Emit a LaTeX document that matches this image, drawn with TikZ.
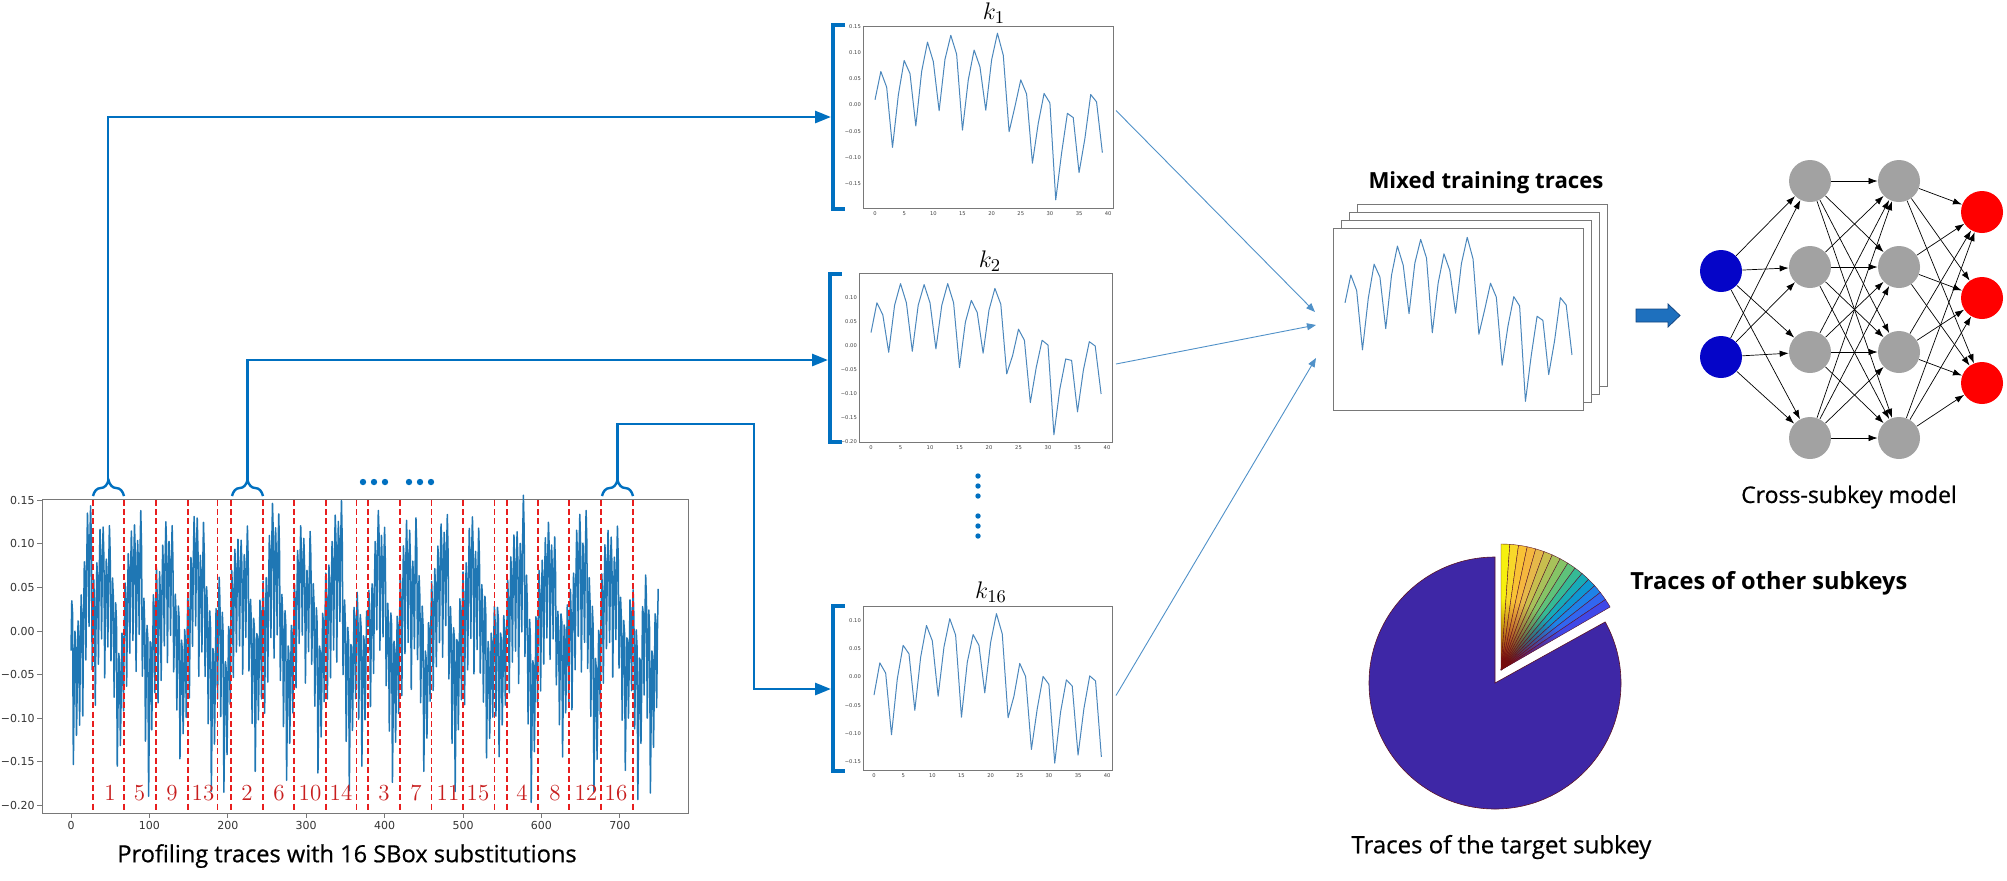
\documentclass[tikz,border=0pt]{standalone}
\usepackage{fontspec}
\newfontfamily\osans{Open Sans}
\newfontfamily\osansm[FakeBold=0.6]{Open Sans}
\newfontfamily\tickfont{DejaVu Sans}
\usetikzlibrary{arrows.meta,decorations.pathreplacing,fadings}
\definecolor{ablue}{RGB}{0,112,192}
\definecolor{tracecol}{RGB}{31,119,180}
\definecolor{kcol}{RGB}{75,135,188}
\definecolor{tblue}{RGB}{80,145,200}
\definecolor{framegray}{RGB}{120,120,120}
\definecolor{sred}{RGB}{232,30,30}
\definecolor{nred}{RGB}{200,30,30}
\definecolor{piemain}{RGB}{62,39,166}
\definecolor{pieline}{RGB}{90,20,40}
\definecolor{apexred}{RGB}{120,10,10}
\definecolor{nnblue}{RGB}{5,5,200}
\definecolor{nngray}{RGB}{162,162,162}
\definecolor{nnred}{RGB}{255,0,0}
\definecolor{barfill}{RGB}{30,112,190}
\definecolor{barline}{RGB}{20,70,130}
\definecolor{w1}{RGB}{246,240,14}
\definecolor{w2}{RGB}{248,216,42}
\definecolor{w3}{RGB}{249,194,53}
\definecolor{w4}{RGB}{245,183,63}
\definecolor{w5}{RGB}{230,184,74}
\definecolor{w6}{RGB}{200,190,78}
\definecolor{w7}{RGB}{168,193,90}
\definecolor{w8}{RGB}{133,196,102}
\definecolor{w9}{RGB}{94,194,122}
\definecolor{w10}{RGB}{53,186,149}
\definecolor{w11}{RGB}{23,171,184}
\definecolor{w12}{RGB}{14,152,210}
\definecolor{w13}{RGB}{30,130,232}
\definecolor{w14}{RGB}{50,102,240}
\definecolor{w15}{RGB}{64,72,232}
\tikzfading[name=apexfade, inner color=transparent!0, outer color=transparent!100]
\tikzset{
  pframe/.style={draw=framegray, line width=0.5pt, fill=white, inner sep=0pt, anchor=north west},
  bigtrace/.style={draw=tracecol, line width=0.75pt, line join=round},
  ktrace/.style={draw=kcol, line width=0.5pt, line join=round},
  sbox/.style={draw=sred, line width=0.85pt, dash pattern=on 3pt off 1.6pt},
  snum/.style={text=nred, font=\fontsize{11.5}{12}\selectfont, inner sep=0pt},
  flow/.style={draw=ablue, line width=1.4pt, -{Triangle[length=8pt,width=6pt]}},
  kbr/.style={draw=ablue, line width=2pt},
  brc/.style={draw=ablue, line width=1.2pt, decorate, decoration={brace, amplitude=8pt}},
  bdot/.style={fill=ablue, circle, inner sep=0pt, minimum size=3.2pt},
  vdot/.style={fill=ablue, circle, inner sep=0pt, minimum size=2.7pt},
  feed/.style={draw=tblue, line width=0.45pt, -{Triangle[length=4.5pt,width=3.5pt]}},
  ticklab/.style={font=\tickfont\fontsize{5.5}{6}\selectfont, text=black!80, inner sep=1pt},
  ktick/.style={font=\tickfont\fontsize{2.6}{3}\selectfont, text=black!75, inner sep=0.4pt},
  klabel/.style={font=\fontsize{13}{15}\selectfont, inner sep=0pt},
  nn/.style={circle, minimum size=21pt, inner sep=0pt},
  nnedge/.style={draw=black, line width=0.35pt, -{Latex[length=4.5pt,width=3.2pt]}},
  captxt/.style={font=\osansm\fontsize{11.8}{13}\selectfont, inner sep=0pt},
  captxtb/.style={font=\osans\bfseries\fontsize{11.8}{13}\selectfont, inner sep=0pt}
}
\def\Pk{{0.010,0.064,0.034,-0.081,0.019,0.085,0.060,-0.040,0.064,0.120,0.083,-0.011,0.087,0.133,0.097,-0.048,0.048,0.105,0.073,-0.010,0.086,0.137,0.095,-0.051,-0.003,0.048,0.021,-0.111,-0.035,0.022,0.004,-0.181,-0.092,-0.016,-0.024,-0.129,-0.064,0.020,0.006,-0.091}}
\begin{document}
\begin{tikzpicture}[x=0.5pt,y=-0.5pt]
\useasboundingbox (0,0) rectangle (2007,880);

% ---------------- big profiling plot ----------------
\node[pframe, line width=0.7pt, minimum width=323pt, minimum height=157pt] (big) at (42,499) {};
\gdef\bigtr{}
\foreach \n in {0,...,749}{%
  \pgfmathtruncatemacro\g{\n<204 ? 28 : (\n<379 ? 204 : (\n<556 ? 379 : 556))}%
  \pgfmathtruncatemacro\j{\n<28 ? mod(\n+28,40) : (\n>\g+159 ? 24+mod(\n-\g-160,16) : mod(\n-\g,40))}%
  \pgfmathsetmacro\v{(0.93+0.07*sin(\n*4.5))*\Pk[\j]+0.012*sin(\n*21.3)+0.01*cos(\n*13.7)}%
  \pgfmathsetmacro\xx{71+0.784*\n}%
  \pgfmathsetmacro\yy{631-873*\v}%
  \xdef\bigtr{\bigtr(\xx,\yy)}%
}
\edef\tmp{\noexpand\draw[bigtrace] plot coordinates {\bigtr};}\tmp
\foreach \xv in {93.0,124.3,155.7,187.8,217.6,230.9,263.1,293.7,325.8,356.4,368.1,400.3,431.6,463.0,494.4,506.9,538.3,568.8,601.0,633.1}
  \draw[sbox] (\xv,500) -- (\xv,812);
\foreach \xv/\t in {110/1,139.5/5,172/9,203/13,247/2,279/6,310/10,341/14,384/3,416/7,448/11,478/15,522/4,555/8,586/12,616/16}
  \node[snum] (sn\t) at (\xv,793) {\t};
% y ticks
\foreach \yv/\t in {0.15/0.15,0.10/0.10,0.05/0.05,0.00/0.00,-0.05/−0.05,-0.10/−0.10,-0.15/−0.15,-0.20/−0.20}{
  \pgfmathsetmacro\yy{631-873*\yv}
  \draw[framegray, line width=0.5pt] (42,\yy) -- (37,\yy);
  \node[ticklab, anchor=east] at (37,\yy) {\t};
}
\foreach \k in {0,...,7}{
  \pgfmathsetmacro\xx{71+78.4*\k}
  \pgfmathtruncatemacro\lab{100*\k}
  \draw[framegray, line width=0.5pt] (\xx,813) -- (\xx,818);
  \node[ticklab] (xl\k) at (\xx,825) {\lab};
}
\node[captxt] (ptitle) at (347,856) {Profiling traces with 16 SBox substitutions};

% braces and dots
\draw[brc] (93,496) -- (124,496);
\draw[brc] (232,496) -- (263,496);
\draw[brc] (602,496) -- (633,496);
\coordinate (b1) at (108,480);
\coordinate (b2) at (247.5,480);
\coordinate (b3) at (617.5,480);
\foreach \xv [count=\i] in {363,374,385,409,420,431}
  \node[bdot] (hd\i) at (\xv,482) {};

% ---------------- k plots ----------------
% k1
\node[pframe, minimum width=125pt, minimum height=91pt] (k1) at (863,26) {};
\draw[ktrace, shift={(875,105)}, xscale=5.83, yscale=-524] plot coordinates {(0,0.010) (1,0.064) (2,0.034) (3,-0.081) (4,0.019) (5,0.085) (6,0.060) (7,-0.040) (8,0.064) (9,0.120) (10,0.083) (11,-0.011) (12,0.087) (13,0.133) (14,0.097) (15,-0.048) (16,0.048) (17,0.105) (18,0.073) (19,-0.010) (20,0.086) (21,0.137) (22,0.095) (23,-0.051) (24,-0.003) (25,0.048) (26,0.021) (27,-0.111) (28,-0.035) (29,0.022) (30,0.004) (31,-0.181) (32,-0.092) (33,-0.016) (34,-0.024) (35,-0.129) (36,-0.064) (37,0.020) (38,0.006) (39,-0.091)};
\foreach \yv/\t in {0.15/0.15,0.10/0.10,0.05/0.05,0/0.00,-0.05/−0.05,-0.10/−0.10,-0.15/−0.15}{
  \pgfmathsetmacro\yy{105-524*\yv}
  \node[ktick, anchor=east] at (862,\yy) {\t};}
\foreach \i in {0,5,...,40}{
  \pgfmathsetmacro\xx{875+5.83*\i}
  \node[ktick] at (\xx,214) {\i};}
\draw[kbr] (845,25) -- (833,25) -- (833,209) -- (845,209);
\coordinate (k1in) at (831,117);
\node[klabel] (k1t) at (994,13) {$k_{1}$};

% k2
\node[pframe, minimum width=126.5pt, minimum height=84.5pt] (k2) at (859,273) {};
\draw[ktrace, shift={(871,346)}, xscale=5.9, yscale=-480] plot coordinates {(0,0.028) (1,0.090) (2,0.065) (3,-0.013) (4,0.085) (5,0.130) (6,0.090) (7,-0.011) (8,0.085) (9,0.128) (10,0.090) (11,-0.006) (12,0.085) (13,0.130) (14,0.090) (15,-0.045) (16,0.050) (17,0.095) (18,0.070) (19,-0.015) (20,0.075) (21,0.120) (22,0.087) (23,-0.058) (24,-0.020) (25,0.035) (26,0.012) (27,-0.118) (28,-0.045) (29,0.012) (30,0.002) (31,-0.185) (32,-0.090) (33,-0.027) (34,-0.030) (35,-0.137) (36,-0.050) (37,0.009) (38,0.000) (39,-0.100)};
\foreach \yv/\t in {0.10/0.10,0.05/0.05,0/0.00,-0.05/−0.05,-0.10/−0.10,-0.15/−0.15,-0.20/−0.20}{
  \pgfmathsetmacro\yy{346-480*\yv}
  \node[ktick, anchor=east] at (858,\yy) {\t};}
\foreach \i in {0,5,...,40}{
  \pgfmathsetmacro\xx{871+5.9*\i}
  \node[ktick] at (\xx,448) {\i};}
\draw[kbr] (842,274) -- (830,274) -- (830,442) -- (842,442);
\coordinate (k2in) at (828,360);
\node[klabel] (k2t) at (990,261) {$k_{2}$};

% dots
\foreach \yv [count=\i] in {476,486,496,516,526,536}
  \node[vdot] (vd\i) at (978,\yv) {};

% k16
\node[pframe, minimum width=124.5pt, minimum height=82pt] (k16) at (863,606) {};
\draw[ktrace, shift={(874,677)}, xscale=5.83, yscale=-566] plot coordinates {(0,-0.032) (1,0.025) (2,0.007) (3,-0.102) (4,-0.003) (5,0.056) (6,0.041) (7,-0.059) (8,0.035) (9,0.091) (10,0.064) (11,-0.034) (12,0.053) (13,0.103) (14,0.074) (15,-0.071) (16,0.026) (17,0.075) (18,0.056) (19,-0.028) (20,0.061) (21,0.112) (22,0.076) (23,-0.072) (24,-0.034) (25,0.024) (26,0.001) (27,-0.128) (28,-0.056) (29,0.001) (30,-0.013) (31,-0.152) (32,-0.062) (33,-0.005) (34,-0.016) (35,-0.138) (36,-0.056) (37,0.002) (38,-0.007) (39,-0.141)};
\foreach \yv/\t in {0.10/0.10,0.05/0.05,0/0.00,-0.05/−0.05,-0.10/−0.10,-0.15/−0.15}{
  \pgfmathsetmacro\yy{677-566*\yv}
  \node[ktick, anchor=east] at (862,\yy) {\t};}
\foreach \i in {0,5,...,40}{
  \pgfmathsetmacro\xx{874+5.83*\i}
  \node[ktick] at (\xx,776) {\i};}
\draw[kbr] (845,606) -- (833,606) -- (833,771) -- (845,771);
\coordinate (k16in) at (831,689);
\node[klabel] (k16t) at (991,592) {$k_{16}$};

% flow arrows from braces
\draw[flow] (b1) |- (k1in);
\draw[flow] (b2) |- (k2in);
\coordinate (c3a) at (754,424);
\draw[flow] (b3) |- (c3a) |- (k16in);

% ---------------- mixed training traces ----------------
\node[pframe, minimum width=125pt, minimum height=91pt] (m4) at (1357,204) {};
\node[pframe, minimum width=125pt, minimum height=91pt] (m3) at (1349,212) {};
\node[pframe, minimum width=125pt, minimum height=91pt] (m2) at (1341,220) {};
\node[pframe, minimum width=125pt, minimum height=91pt] (m1) at (1333,228) {};
\draw[ktrace, shift={(1345,308)}, xscale=5.82, yscale=-516] plot coordinates {(0,0.010) (1,0.064) (2,0.034) (3,-0.081) (4,0.019) (5,0.085) (6,0.060) (7,-0.040) (8,0.064) (9,0.120) (10,0.083) (11,-0.011) (12,0.087) (13,0.133) (14,0.097) (15,-0.048) (16,0.048) (17,0.105) (18,0.073) (19,-0.010) (20,0.086) (21,0.137) (22,0.095) (23,-0.051) (24,-0.003) (25,0.048) (26,0.021) (27,-0.111) (28,-0.035) (29,0.022) (30,0.004) (31,-0.181) (32,-0.092) (33,-0.016) (34,-0.024) (35,-0.129) (36,-0.064) (37,0.020) (38,0.006) (39,-0.091)};
\node[captxtb, font=\osans\bfseries\fontsize{11.1}{13}\selectfont] (mt) at (1486,183) {Mixed training traces};
\coordinate (min1) at (1315,312);
\coordinate (min2) at (1316,325);
\coordinate (min3) at (1316,358);
\draw[feed] (k1.east) ++(2,-7) -- (min1);
\draw[feed] (k2.east) ++(3,6) -- (min2);
\draw[feed] (k16.east) ++(3,7) -- (min3);

% block arrow
\fill[barfill, draw=barline, line width=0.4pt] (1636,309) -- (1668,309) -- (1668,304) -- (1680,315.5) -- (1668,327) -- (1668,322) -- (1636,322) -- cycle;

% ---------------- neural network ----------------
\node[nn, fill=nnblue] (i1) at (1721,271) {};
\node[nn, fill=nnblue] (i2) at (1721,357) {};
\foreach \yv [count=\i] in {181,267,352,438}{
  \node[nn, fill=nngray] (h\i) at (1810,\yv) {};
  \node[nn, fill=nngray] (g\i) at (1899,\yv) {};
}
\foreach \yv [count=\i] in {212,298,383}
  \node[nn, fill=nnred] (o\i) at (1982,\yv) {};
\foreach \a in {1,2} \foreach \b in {1,...,4} \draw[nnedge] (i\a) -- (h\b);
\foreach \a in {1,...,4} \foreach \b in {1,...,4} \draw[nnedge] (h\a) -- (g\b);
\foreach \a in {1,...,4} \foreach \b in {1,...,3} \draw[nnedge] (g\a) -- (o\b);
\node[captxt, font=\osansm\fontsize{11.5}{13}\selectfont] (nt) at (1849,497) {Cross-subkey model};

% ---------------- pie chart ----------------
\begin{scope}[shift={(1495,683)}, yscale=-1]
  \fill[piemain, draw=pieline, line width=0.3pt] (0,0) -- (90:126) arc[start angle=90, end angle=389, radius=126] -- cycle;
  \foreach \c [count=\k from 0] in {w1,w2,w3,w4,w5,w6,w7,w8,w9,w10,w11,w12,w13,w14,w15}
    \filldraw[fill=\c, draw=pieline, line width=0.2pt] (6,13) -- ++({90-4*\k}:126) arc[start angle={90-4*\k}, end angle={86-4*\k}, radius=126] -- cycle;
  \begin{scope}
    \clip (6,13) -- ++(90:126) arc[start angle=90, end angle=30, radius=126] -- cycle;
    \fill[apexred, path fading=apexfade] (6,13) circle (70);
  \end{scope}
\end{scope}
\node[captxtb, anchor=west, font=\osans\bfseries\fontsize{11.8}{13}\selectfont] (ot) at (1630,583) {Traces of other subkeys};
\node[captxt, anchor=west, font=\osansm\fontsize{12}{13}\selectfont] (tt) at (1351,847) {Traces of the target subkey};
\end{tikzpicture}
\end{document}
